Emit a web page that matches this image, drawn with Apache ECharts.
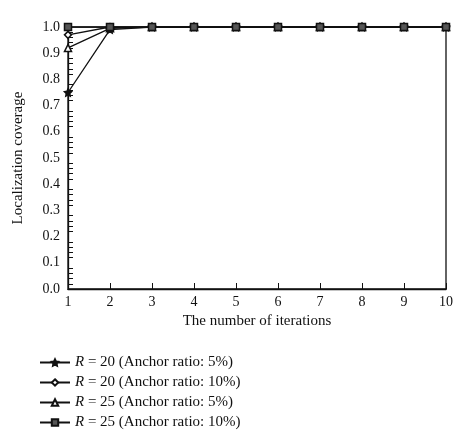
<!DOCTYPE html>
<html>
<head>
<meta charset="utf-8">
<script src="https://cdn.jsdelivr.net/npm/echarts@6/dist/echarts.min.js"></script>
<style>html,body{margin:0;padding:0;background:#fff}#chart{width:474px;height:446px}</style>
</head>
<body>
<div id="chart"></div>
<script>
const iterations = ['1', '2', '3', '4', '5', '6', '7', '8', '9', '10'];
const r20a5 = [0.75, 0.99, 1, 1, 1, 1, 1, 1, 1, 1];
const r20a10 = [0.97, 1, 1, 1, 1, 1, 1, 1, 1, 1];
const r25a5 = [0.92, 0.995, 1, 1, 1, 1, 1, 1, 1, 1];
const r25a10 = [1, 1, 1, 1, 1, 1, 1, 1, 1, 1];
const seriesNames = ['R20a5', 'R20a10', 'R25a5', 'R25a10'];
const legendLabels = {
  R20a5: ['20', '5%'],
  R20a10: ['20', '10%'],
  R25a5: ['25', '5%'],
  R25a10: ['25', '10%'],
};

const font = 'Liberation Serif';
const chart = echarts.init(document.getElementById('chart'));

function makeSeries(name, data, symbol, size, fill) {
  return {
    name,
    type: 'line',
    data,
    symbol,
    symbolSize: size,
    showAllSymbol: true,
    lineStyle: { color: '#111', width: 1.3 },
    itemStyle: { color: fill, borderColor: '#111', borderWidth: 1.5 },
    animation: false,
  };
}

const star = 'path://M0,-10 L2.9,-4 L9.5,-3.1 L4.7,1.5 L5.9,8.1 L0,5 L-5.9,8.1 L-4.7,1.5 L-9.5,-3.1 L-2.9,-4 Z';

chart.setOption({
  textStyle: { fontFamily: font },
  grid: { left: 68, right: 28, top: 27, bottom: 157 },
  xAxis: {
    type: 'category',
    data: iterations,
    boundaryGap: false,
    name: 'The number of iterations',
    nameLocation: 'middle',
    nameGap: 24,
    nameTextStyle: { fontSize: 15, color: '#111', fontFamily: font },
    axisLine: { lineStyle: { color: '#111', width: 1.3 } },
    axisTick: { inside: true, length: 6, lineStyle: { color: '#111' } },
    axisLabel: { fontSize: 14, color: '#111', margin: 6 },
    splitLine: { show: false },
  },
  yAxis: {
    type: 'value',
    min: 0,
    max: 1,
    interval: 0.1,
    name: 'Localization coverage',
    nameLocation: 'middle',
    nameGap: 42,
    nameTextStyle: { fontSize: 15, color: '#111', fontFamily: font },
    axisLine: { show: true, lineStyle: { color: '#111', width: 1.3 } },
    axisTick: { inside: true, length: 8, lineStyle: { color: '#111' } },
    minorTick: { show: true, splitNumber: 5, length: 5, lineStyle: { color: '#111' } },
    axisLabel: { fontSize: 14, color: '#111', formatter: (v) => v.toFixed(1), margin: 8 },
    splitLine: { show: false },
  },
  legend: {
    orient: 'vertical',
    left: 34,
    top: 350,
    itemGap: 5,
    itemWidth: 30,
    itemHeight: 8,
    data: seriesNames,
    textStyle: {
      fontSize: 15,
      color: '#111',
      rich: { i: { fontStyle: 'italic', fontSize: 15, fontFamily: font } },
    },
    formatter: (n) => `{i|R} = ${legendLabels[n][0]} (Anchor ratio: ${legendLabels[n][1]})`,
  },
  series: [
    makeSeries('R20a5', r20a5, star, 7, '#111'),
    makeSeries('R20a10', r20a10, 'diamond', 7, '#fff'),
    makeSeries('R25a5', r25a5, 'triangle', 7, '#fff'),
    makeSeries('R25a10', r25a10, 'rect', 7, '#555'),
  ],
});

// frame around plot area (top and right edges)
const pTop = chart.convertToPixel({ yAxisIndex: 0 }, 1);
const pRight = chart.convertToPixel({ xAxisIndex: 0 }, 9);
const pBottom = chart.convertToPixel({ yAxisIndex: 0 }, 0);
const pLeft = chart.convertToPixel({ xAxisIndex: 0 }, 0);
chart.setOption({
  graphic: [{
    type: 'rect',
    shape: { x: pLeft, y: pTop, width: pRight - pLeft, height: pBottom - pTop },
    style: { fill: 'none', stroke: '#111', lineWidth: 1.3 },
    silent: true,
  }],
});
</script>
</body>
</html>
